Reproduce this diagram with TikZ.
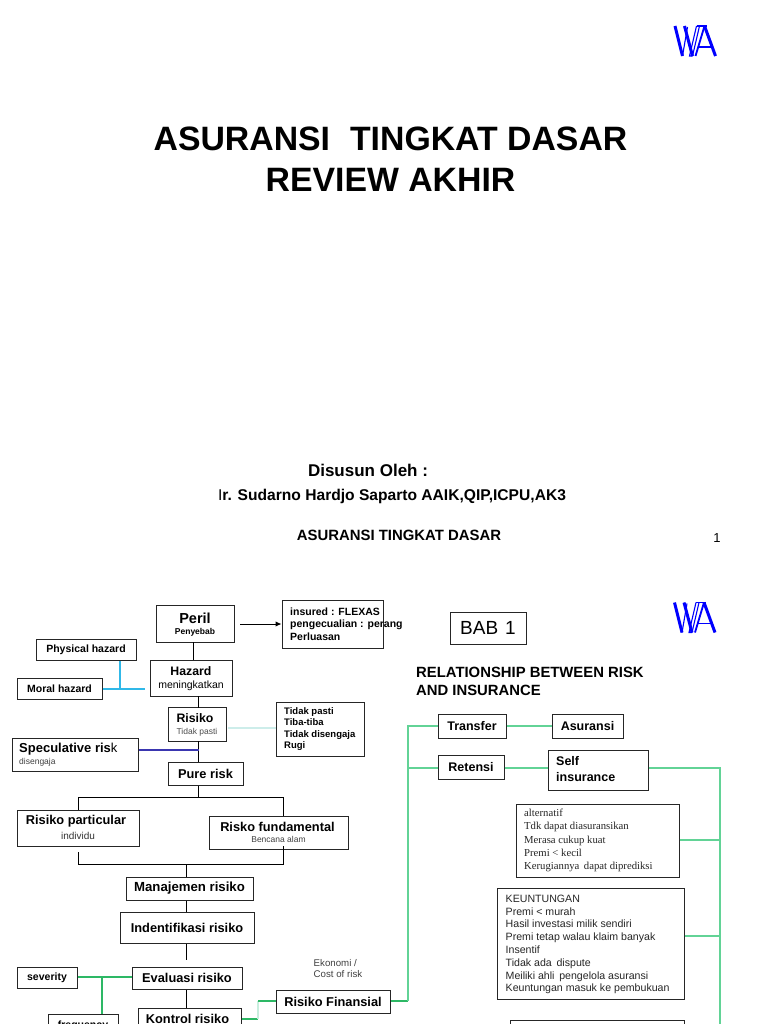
\documentclass[tikz,border=0pt]{standalone}
\usepackage{fontspec}
\usetikzlibrary{arrows.meta}
\setmainfont{Liberation Sans}
\newfontfamily\seriffont{Liberation Serif}
\definecolor{sea_green}{HTML}{62D396}
\definecolor{dark_green}{HTML}{2DB865}
\definecolor{pale_green}{HTML}{C8EEDE}
\definecolor{sky_line}{HTML}{30B8E8}
\definecolor{pale_sky}{HTML}{CDEDEA}
\definecolor{navy_line}{HTML}{3A36B0}
\newcommand{\fs}[1]{\fontsize{#1}{#1}\selectfont}
\newcommand{\logowa}[2]{
  \begin{scope}[shift={(#1,#2)}]
    \draw[logo_thick] (0.5,0) -- (8,30);
    \draw[logo_thin]  (8,30) -- (13,1);
    \draw[logo_thick] (10,0) -- (18,30);
    \draw[logo_thin]  (18,30) -- (25,0);
    \draw[logo_thin]  (22,0) -- (15,30) -- (18,30);
    \draw[logo_thin]  (22,0) -- (32,0);
    \draw[logo_mid]   (30,0) -- (21,30);
    \draw[logo_thin]  (23,21) -- (36,21);
    \draw[logo_thick] (30,0) -- (41,30);
  \end{scope}
}
\begin{document}
\begin{tikzpicture}
  [x=1pt, y=-1pt]
  \tikzstyle{box} = [draw=black!85, line width=1pt, inner sep=0pt, font=\bfseries];
  \tikzstyle{line} = [draw=black, line width=1pt];
  \tikzstyle{green_line} = [draw=sea_green, line width=1.5pt];
  \tikzstyle{dark_line} = [draw=dark_green, line width=1.5pt];
  \tikzstyle{sky} = [draw=sky_line, line width=1.2pt];
  \tikzstyle{label} = [inner sep=0pt, align=left, anchor=west];
  \tikzstyle{logo_thick} = [draw=blue, line width=3pt];
  \tikzstyle{logo_mid} = [draw=blue, line width=1.8pt];
  \tikzstyle{logo_thin} = [draw=blue, line width=1.1pt];

  \useasboundingbox (0,0) rectangle (768,1024);
  \clip (0,0) rectangle (768,1024);
  \fill[white] (0,0) rectangle (768,1024);

  % first slide
  \logowa{674.5}{26}
  \node[inner sep=0pt, align=center, font=\bfseries\fs{33.8}] (title) at (390.5,159.5)
    {ASURANSI\hspace{20pt}TINGKAT DASAR\\[7pt] REVIEW AKHIR};
  \node[inner sep=0pt, font=\bfseries\fs{17}] (author) at (368,470) {Disusun Oleh :};
  \node[inner sep=0pt, font=\fs{15.6}] (author_name) at (392,496)
    {I{\bfseries r. Sudarno Hardjo Saparto AAIK,QIP,ICPU,AK3}};
  \node[inner sep=0pt, font=\bfseries\fs{14.9}] (footer) at (399,535) {ASURANSI TINGKAT DASAR};
  \node[inner sep=0pt, font=\fs{13}] (page_no) at (717,538) {1};

  % second slide, left column
  \logowa{674}{602.5}
  \node[box, minimum width=78pt, minimum height=37pt] (peril) at (195,623.5) {};
  \node[inner sep=0pt, font=\bfseries\fs{14.5}] (peril_t) at (195,618) {Peril};
  \node[inner sep=0pt, font=\fs{8.5}] (peril_s) at (195,632.5) {\bfseries Penyebab};

  \node[box, minimum width=101pt, minimum height=48pt] (insured) at (332.5,624) {};
  \node[label, font=\bfseries\fs{10.5}] (insured_t) at (290,624)
    {insured : FLEXAS\\[2pt] pengecualian : perang\\[2pt] Perluasan};

  \node[box, minimum width=100pt, minimum height=21pt, font=\bfseries\fs{10.5}] (physical) at (86,649.5) {Physical hazard\hspace{3pt}};
  \node[box, minimum width=85pt, minimum height=21pt, font=\bfseries\fs{10.5}] (moral) at (59.5,688.5) {Moral hazard\hspace{2pt}};

  \node[box, minimum width=82pt, minimum height=36pt] (hazard) at (191,678) {};
  \node[inner sep=0pt, font=\bfseries\fs{12.3}] (hazard_t) at (191,671.5) {Hazard};
  \node[inner sep=0pt, font=\fs{10.5}] (hazard_s) at (191,685.5) {meningkatkan};

  \node[box, minimum width=58pt, minimum height=34pt] (risiko) at (197,724.5) {};
  \node[inner sep=0pt, font=\bfseries\fs{12.3}] (risiko_t) at (195,718.5) {Risiko};
  \node[inner sep=0pt, font=\fs{8.5}, text=black!70] (risiko_s) at (197,732) {Tidak pasti};

  \node[box, minimum width=88pt, minimum height=54pt] (tidak) at (320,729) {};
  \node[label, font=\bfseries\fs{9.5}] (tidak_t) at (284,729)
    {Tidak pasti\\[1.8pt] Tiba-tiba\\[1.8pt] Tidak disengaja\\[1.8pt] Rugi};

  \node[box, minimum width=126pt, minimum height=33pt] (speculative) at (75,754.5) {};
  \node[label, font=\fs{13}] (speculative_t) at (19,749.5) {\bfseries Speculative ris{\mdseries k}};
  \node[label, font=\fs{8.5}, text=black!75] (speculative_s) at (19,762) {disengaja};

  \node[box, minimum width=75pt, minimum height=23pt, font=\bfseries\fs{12.8}] (pure) at (205.5,773.5) {Pure risk\hspace{5pt}};

  \coordinate (top_bar) at (198,797);
  \node[box, minimum width=122pt, minimum height=36pt] (particular) at (78,828) {};
  \node[inner sep=0pt, font=\bfseries\fs{12.8}] (particular_t) at (76,821) {Risiko particular};
  \node[inner sep=0pt, font=\fs{10}, text=black!80] (particular_s) at (78,836) {individu};

  \node[box, minimum width=139pt, minimum height=33pt] (fundamental) at (278.5,832.5) {};
  \node[inner sep=0pt, font=\bfseries\fs{12.8}] (fundamental_t) at (277.5,827) {Risko fundamental};
  \node[inner sep=0pt, font=\fs{8.5}, text=black!75] (fundamental_s) at (278.5,839.5) {Bencana alam};

  \node[box, minimum width=127pt, minimum height=23pt, font=\bfseries\fs{13.2}] (manajemen) at (189.5,888.5) {Manajemen risiko\hspace{3pt}};
  \node[box, minimum width=134pt, minimum height=31pt, font=\bfseries\fs{12.8}] (identifikasi) at (187,927.5) {Indentifikasi risiko\hspace{6pt}};
  \node[box, minimum width=110pt, minimum height=22pt, font=\bfseries\fs{12.8}] (evaluasi) at (187,978) {Evaluasi risiko\hspace{5pt}};
  \node[box, minimum width=103pt, minimum height=24pt] (kontrol) at (189.5,1020) {};
  \node[inner sep=0pt, font=\bfseries\fs{12.8}] (kontrol_t) at (187.5,1018.5) {Kontrol risiko};
  \node[box, minimum width=60pt, minimum height=21pt, font=\bfseries\fs{10.5}] (severity) at (47,977.5) {severity};
  \node[box, minimum width=70pt, minimum height=24pt, font=\bfseries\fs{10.5}] (frequency) at (83,1026) {frequency};

  \node[label, font=\fs{9.7}, text=black!75] (ekonomi) at (313.5,968.5) {Ekonomi /\\[2pt] Cost of risk};
  \node[box, minimum width=114pt, minimum height=23pt, font=\bfseries\fs{12.8}] (finansial) at (333,1001.5) {Risiko Finansial\hspace{1pt}};

  % second slide, right column
  \node[box, minimum width=76pt, minimum height=32pt, font=\mdseries\fs{19}] (bab) at (488,628) {BAB\hspace{7pt}1};
  \node[label, font=\bfseries\fs{14.85}] (relationship) at (416,681.5) {RELATIONSHIP BETWEEN RISK\\[2.5pt] AND INSURANCE};

  \node[box, minimum width=68pt, minimum height=24pt, font=\bfseries\fs{12.5}] (transfer) at (472,726) {Transfer\hspace{3pt}};
  \node[box, minimum width=71pt, minimum height=24pt, font=\bfseries\fs{12.5}] (asuransi) at (587.5,726) {Asuransi};
  \node[box, minimum width=66pt, minimum height=24pt, font=\bfseries\fs{12.5}] (retensi) at (471,767.5) {Retensi\hspace{3pt}};
  \node[box, minimum width=100pt, minimum height=40pt] (self) at (598,770) {};
  \node[label, font=\bfseries\fs{12.5}] (self_t) at (556,769) {Self\\[3pt] insurance};

  \node[box, minimum width=163pt, minimum height=73pt] (alternatif) at (597.5,840.5) {};
  \node[label, font=\seriffont\fs{10.7}, text=black!85] (alternatif_t) at (524,840.5)
    {alternatif\\[2.5pt] Tdk dapat diasuransikan\\[2.5pt] Merasa cukup kuat\\[2.5pt] Premi < kecil\\[2.5pt] Kerugiannya\, dapat diprediksi};

  \node[box, minimum width=187pt, minimum height=111pt] (keuntungan) at (590.5,943.5) {};
  \node[label, font=\fs{10.6}, text=black!85] (keuntungan_t) at (505.5,944.5)
    {KEUNTUNGAN\\[2.2pt] Premi < murah\\[2.2pt] Hasil investasi milik sendiri\\[2.2pt] Premi tetap walau klaim banyak\\[2.2pt] Insentif\\[2.2pt] Tidak ada\, dispute\\[2.2pt] Meiliki ahli\, pengelola asuransi\\[2.2pt] Keuntungan masuk ke pembukuan};

  \node[box, minimum width=174pt, minimum height=40pt] (bottom) at (597,1040) {};

  \coordinate (spine_left) at (408,768);
  \coordinate (spine_right) at (720,1030);
  \coordinate (branch) at (258,1001);
  \coordinate (hazard_in) at (145,689);

  % connectors
  \draw[line, -{Latex[length=6pt,width=5.5pt]}] (240,624) -- (insured.west |- 276,624);
  \draw[line] (193,642) -- (193,660);
  \draw[line] (198.5,696) -- (198.5,708);
  \draw[line] (198.5,741) -- (pure.north -| 198.5,762);
  \draw[line] (pure.south -| 198,785) -- (top_bar);
  \draw[line] (particular.north) |- (top_bar);
  \draw[line] (fundamental.north -| 283,816) |- (top_bar);
  \draw[line] (78,852) -- (78,864) -- (283,864) -- (283,846);
  \draw[line] (186,864) -- (manajemen.north -| 186,877);
  \draw[line] (manajemen.south -| 186,900) -- (identifikasi.north -| 186,912);
  \draw[line] (identifikasi.south -| 186,943) -- (186,960);
  \draw[line] (evaluasi.south -| 186,989) -- (kontrol.north -| 186,1008);

  \draw[sky] (moral.east |- 102,689) -- (hazard_in);
  \draw[sky] (physical.south -| 120,660) -- (120,689);
  \draw[draw=pale_sky, line width=1.2pt] (228,728) -- (tidak.west |- 276,728);
  \draw[draw=navy_line, line width=1.2pt] (speculative.east |- 138,750) -- (198.5,750);

  \draw[dark_line] (severity.east |- 77,977) -- (evaluasi.west |- 132,977);
  \draw[dark_line] (102,977) -- (frequency.north -| 102,1014);
  \draw[dark_line] (kontrol.east |- 241,1019) -- (258,1019);
  \draw[draw=pale_green, line width=1.2pt] (258,1019) -- (branch);
  \draw[dark_line] (branch) -- (finansial.west |- branch);
  \draw[dark_line] (finansial.east |- branch) -- (408,1001);
  \draw[green_line] (408,1001) -- (spine_left);
  \draw[green_line] (spine_left) |- (transfer.west);
  \draw[green_line] (spine_left) -- (retensi.west |- spine_left);
  \draw[green_line] (transfer.east) -- (asuransi.west);
  \draw[green_line] (retensi.east |- spine_left) -- (self.west |- spine_left);
  \draw[green_line] (self.east |- spine_left) -| (spine_right);
  \draw[green_line] (alternatif.east |- 679,840) -- (720,840);
  \draw[green_line] (keuntungan.east |- 684,936) -- (720,936);

\end{tikzpicture}
\end{document}
